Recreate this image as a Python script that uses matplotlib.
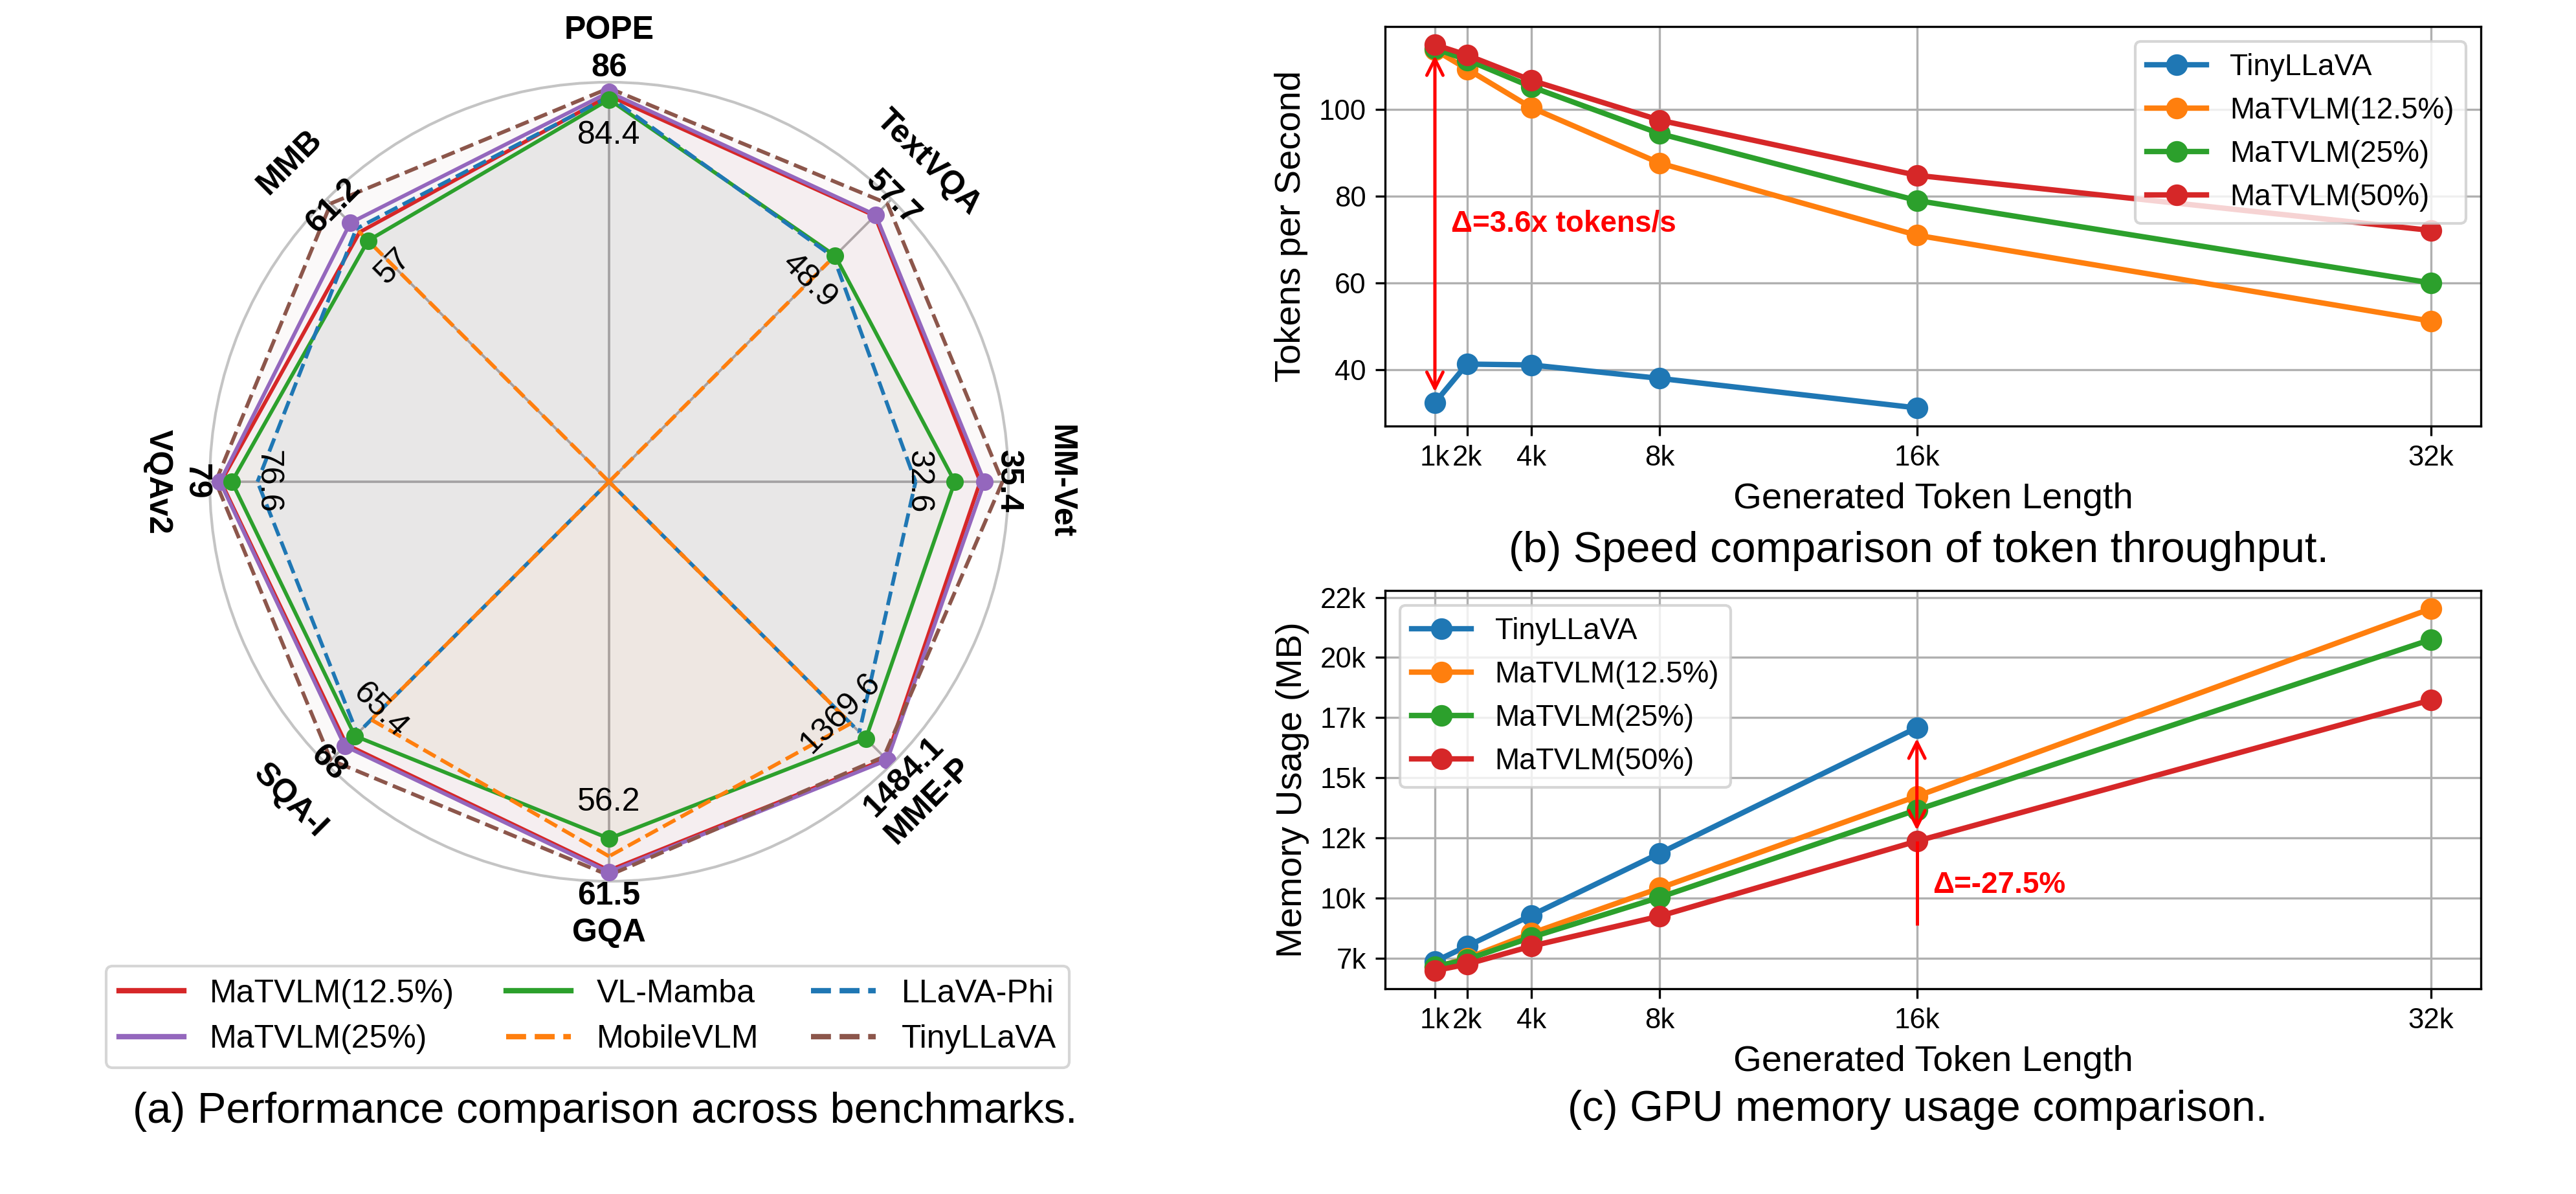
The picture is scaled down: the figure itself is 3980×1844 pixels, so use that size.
# MaTVLM comparison figure: radar of benchmarks + throughput + GPU memory
import numpy as np
import matplotlib
matplotlib.use('Agg')
import matplotlib.pyplot as plt
from matplotlib.lines import Line2D

plt.rcParams['font.family'] = ['Liberation Sans', 'DejaVu Sans']


# ---------------- (a) benchmark scores ----------------
benchmarks = ['POPE', 'TextVQA', 'MM-Vet', 'MME-P', 'GQA', 'SQA-I', 'VQAv2', 'MMB']
matvlm_125 = [85.2, 57.5, 35.0, 1478.0, 61.2, 67.6, 78.8, 59.0]
matvlm_25 = [86.0, 57.7, 35.4, 1484.1, 61.5, 68.0, 79.0, 61.2]
vl_mamba = [84.4, 48.9, 32.6, 1369.6, 56.2, 65.4, 76.6, 57.0]
mobilevlm = [0, 47.5, 0, 1288.9, 59.0, 61.2, 0, 59.6]      # 0 = not reported
llava_phi = [85.0, 48.6, 28.9, 1335.1, 0, 64.8, 71.4, 59.8]
tinyllava = [86.9, 60.2, 37.1, 1466.0, 62.0, 71.6, 79.9, 65.8]

# ---------------- (b) / (c) speed and memory ----------------
token_len = [1, 2, 4, 8, 16, 32]
token_labels = ['1k', '2k', '4k', '8k', '16k', '32k']

tps_tinyllava = [32.4, 41.3, 41.1, 38.0, 31.2]          # no 32k run (OOM)
tps_matvlm_125 = [113.7, 109.3, 100.4, 87.6, 71.0, 51.2]
tps_matvlm_25 = [114.0, 111.4, 105.2, 94.4, 79.0, 60.0]
tps_matvlm_50 = [114.9, 112.5, 106.7, 97.5, 84.8, 72.1]

mem_tinyllava = [7367, 8000, 9283, 11867, 17083]
mem_matvlm_125 = [7117, 7500, 8533, 10417, 14233, 22033]
mem_matvlm_25 = [7150, 7450, 8367, 10033, 13667, 20750]
mem_matvlm_50 = [6983, 7250, 8000, 9250, 12367, 18233]


W, H, DPI = 3980, 1844, 300
fig = plt.figure(figsize=(W / DPI, H / DPI), dpi=DPI)


def px_axes(x0, y0, x1, y1, **kw):
    # axes from pixel box (top-left origin)
    return fig.add_axes([x0 / W, 1 - y1 / H, (x1 - x0) / W, (y1 - y0) / H], **kw)


# ======================= (a) radar =======================
ax = px_axes(324, 127, 1558, 1361, projection='polar')
n = len(benchmarks)
angles = np.arange(n) * 2 * np.pi / n
ax.set_theta_zero_location('N')
ax.set_theta_direction(-1)

series = [
    ('MaTVLM(12.5%)', matvlm_125, 'tab:red', '-', None),
    ('MaTVLM(25%)', matvlm_25, 'tab:purple', '-', 'o'),
    ('VL-Mamba', vl_mamba, 'tab:green', '-', 'o'),
    ('LLaVA-Phi', llava_phi, 'tab:blue', (2, (3.7, 1.6)), None),
    ('MobileVLM', mobilevlm, 'tab:orange', '--', None),
    ('TinyLLaVA', tinyllava, 'tab:brown', '--', None),
]
legend_order = ['MaTVLM(12.5%)', 'MaTVLM(25%)', 'VL-Mamba', 'MobileVLM', 'LLaVA-Phi', 'TinyLLaVA']

# each axis is scaled by its best score (a bit of headroom to the rim)
all_vals = np.array([s[1] for s in series], dtype=float)
scale = all_vals.max(axis=0) * 1.015

handles = {}
for name, vals, color, ls, mk in series:
    r = np.array(vals, dtype=float) / scale
    th_c = np.append(angles, angles[0])
    r_c = np.append(r, r[0])
    ax.fill(th_c, r_c, color=color, alpha=0.03, zorder=2)
    # draw edge by edge, a spoke back to the centre only once
    done = set()
    for i in range(n):
        j = (i + 1) % n
        key = tuple(sorted([(i if r[i] > 0 else -1), (j if r[j] > 0 else -1)]))
        if key in done:
            continue
        done.add(key)
        a, b = i, j
        if r[a] > 0 and r[b] == 0:
            a, b = b, a
        ax.plot([angles[a], angles[b]], [r[a], r[b]], color=color, ls=ls, lw=1.4,
                zorder=3, solid_capstyle='round')
    if mk:
        ax.plot(angles, r, ls='none', marker=mk, markersize=5.5, color=color, zorder=4)
    handles[name] = Line2D([], [], color=color, ls='--' if ls != '-' else '-', lw=2, label=name)

ax.set_ylim(0, 1)
ax.set_yticks([])
ax.set_xticks(angles)
ax.set_xticklabels([])
ax.grid(True, color='#b0b0b0', lw=0.9)
ax.spines['polar'].set_color('#c4c4c4')
ax.spines['polar'].set_linewidth(1.0)

r25 = np.array(matvlm_25) / scale
rvl = np.array(vl_mamba) / scale
for i, name in enumerate(benchmarks):
    deg = np.degrees(angles[i])
    rot = ((-deg + 90) % 180) - 90
    ax.text(angles[i], 1.13, name, rotation=rot, rotation_mode='anchor',
            ha='center', va='center', fontsize=12, fontweight='bold')
    ax.text(angles[i], r25[i] + 0.06, f'{matvlm_25[i]:g}', rotation=rot,
            rotation_mode='anchor', ha='center', va='center', fontsize=12,
            fontweight='bold')
    ax.text(angles[i], rvl[i] - 0.09, f'{vl_mamba[i]:g}', rotation=rot,
            rotation_mode='anchor', ha='center', va='center', fontsize=12)

fig.legend(handles=[handles[k] for k in legend_order], ncol=3, fontsize=12, loc='center',
           bbox_to_anchor=(908 / W, 1 - 1570 / H), columnspacing=1.6)
fig.text(935 / W, 1 - 1717 / H, '(a) Performance comparison across benchmarks.',
         ha='center', va='center', fontsize=16)


# ======================= (b) / (c) line charts =======================
line_series = ['TinyLLaVA', 'MaTVLM(12.5%)', 'MaTVLM(25%)', 'MaTVLM(50%)']
line_colors = ['tab:blue', 'tab:orange', 'tab:green', 'tab:red']


def line_panel(ax, ys, ylabel, legend_loc):
    for name, y, c in zip(line_series, ys, line_colors):
        ax.plot(token_len[:len(y)], y, marker='o', color=c, lw=2, markersize=7, label=name)
    ax.set_xticks(token_len)
    ax.set_xticklabels(token_labels)
    ax.tick_params(labelsize=10.5)
    ax.grid(True, color='#b0b0b0', lw=0.8)
    ax.set_xlabel('Generated Token Length', fontsize=13.5)
    ax.set_ylabel(ylabel, fontsize=13.5)
    ax.legend(loc=legend_loc, fontsize=11)


# (b) throughput
axb = px_axes(2140, 41, 3833, 658)
line_panel(axb, [tps_tinyllava, tps_matvlm_125, tps_matvlm_25, tps_matvlm_50],
           'Tokens per Second', 'upper right')
axb.annotate('', xy=(token_len[0], tps_tinyllava[0]), xytext=(token_len[0], tps_matvlm_50[0]),
             arrowprops=dict(arrowstyle='<->', color='red', lw=1.2, mutation_scale=15,
                             shrinkA=4, shrinkB=4))
axb.text(token_len[0] + 0.5, (tps_tinyllava[0] + tps_matvlm_50[0]) / 2, 'Δ=3.6x tokens/s',
         color='red', fontweight='bold', fontsize=11, ha='left', va='center')
fig.text(2965 / W, 1 - 851 / H, '(b) Speed comparison of token throughput.',
         ha='center', va='center', fontsize=16)

# (c) memory
axc = px_axes(2140, 912, 3833, 1527)
line_panel(axc, [mem_tinyllava, mem_matvlm_125, mem_matvlm_25, mem_matvlm_50],
           'Memory Usage (MB)', 'upper left')
yt = np.arange(7500, 22501, 2500)
axc.set_yticks(yt)
axc.set_yticklabels([f'{int(v / 1000)}k' for v in yt])
axc.annotate('', xy=(token_len[4], mem_tinyllava[4]), xytext=(token_len[4], mem_matvlm_50[4]),
             arrowprops=dict(arrowstyle='<->', color='red', lw=1.2, mutation_scale=15,
                             shrinkA=4, shrinkB=4))
axc.vlines(token_len[4], 8870, mem_matvlm_50[4], color='red', lw=1.2)
axc.text(token_len[4] + 0.5, 10530, 'Δ=-27.5%', color='red', fontweight='bold',
         fontsize=11, ha='left', va='center')
fig.text(2963 / W, 1 - 1714 / H, '(c) GPU memory usage comparison.',
         ha='center', va='center', fontsize=16)

fig.savefig('out.png', dpi=DPI)
